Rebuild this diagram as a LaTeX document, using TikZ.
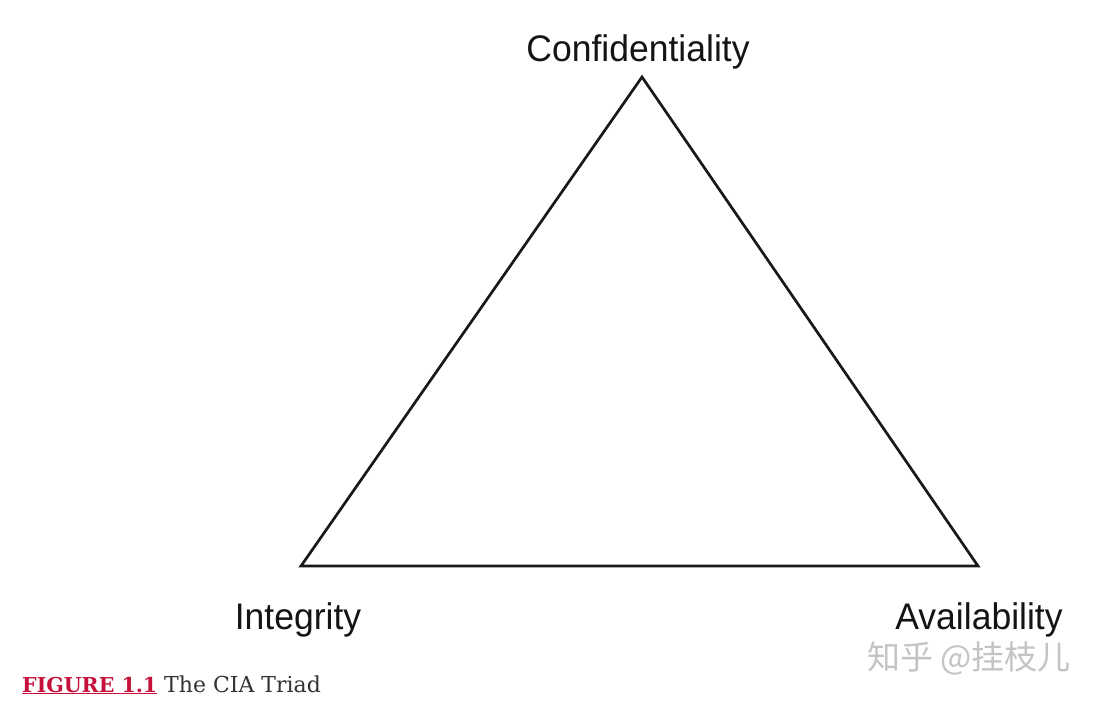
\documentclass[tikz,border=0pt]{standalone}
\usepackage{fontspec}
\setmainfont{DejaVu Serif}
\newfontfamily\labelfont[FakeStretch=0.96]{Liberation Sans}
\newfontfamily\cjk{Noto Sans CJK SC}
\definecolor{figred}{HTML}{C4103A}
\definecolor{captext}{HTML}{333333}
\definecolor{wm}{HTML}{C4C4C4}
\begin{document}
\begin{tikzpicture}[x=1pt,y=-1pt,
  vlabel/.style={font=\labelfont\fontsize{37}{40}\selectfont, text=black!92, inner sep=0pt},
  edge/.style={draw=black!90, line width=2.7pt, line join=miter}]
\useasboundingbox (0,0) rectangle (1102,706);
\fill[white] (0,0) rectangle (1102,706);
\coordinate (C) at (642,77);
\coordinate (I) at (301,566);
\coordinate (A) at (978,566);
\draw[edge] (C) -- (I) -- (A) -- cycle;
\node[vlabel, anchor=base] (lc) at (638,62) {Confidentiality};
\node[vlabel, anchor=base] (li) at (298,629) {Integrity};
\node[vlabel, anchor=base] (la) at (979,629) {Availability};
\node[anchor=base west, inner sep=0pt] (cap) at (22,692)
  {\fontsize{20.5}{24}\selectfont\textcolor{figred}{\textbf{\underline{FIGURE 1.1}}}\fontsize{22}{24}\selectfont\ \textcolor{captext}{The CIA Triad}};
\node[anchor=base west, inner sep=0pt, text=wm, font=\cjk\fontsize{33}{36}\selectfont] (wmk) at (867,669) {知乎 @挂枝儿};
\end{tikzpicture}
\end{document}
